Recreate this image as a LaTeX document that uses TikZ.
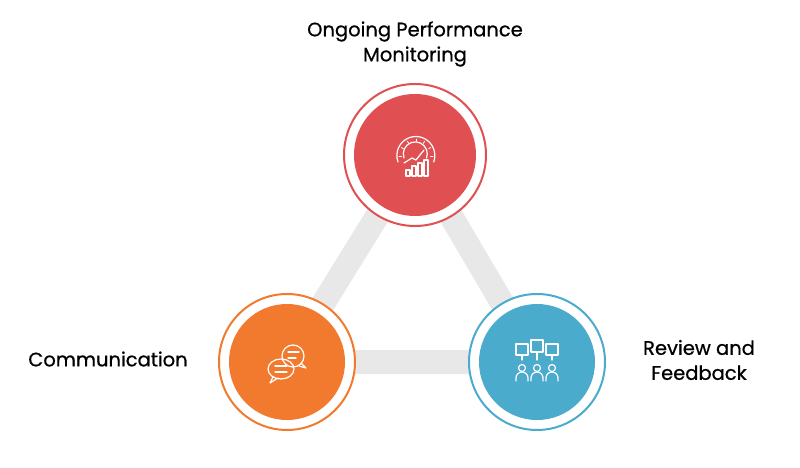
\documentclass[tikz,border=0pt]{standalone}
\usepackage{fontspec}
\usetikzlibrary{calc}
\setmainfont{Poppins}
\newfontfamily\lblf{Poppins}[UprightFeatures={FakeBold=0.7}]
\definecolor{cR}{RGB}{224,80,82}
\definecolor{cO}{RGB}{242,122,46}
\definecolor{cB}{RGB}{74,171,204}
\begin{document}
\begin{tikzpicture}[x=1pt,y=-1pt,
 lbl/.style={font=\lblf\fontsize{19.5}{25}\selectfont,align=center,text=black},
 ring/.style={draw=#1,line width=2pt,circle,inner sep=0pt,fill=white},
 disc/.style={fill=#1,circle,inner sep=0pt},
 ic/.style={draw=white,line width=1.2pt,line cap=round,line join=round}]
\useasboundingbox[fill=white] (0,0) rectangle (800,468);
\coordinate (T) at (415,155);
\coordinate (L) at (287,362);
\coordinate (R) at (537,362);
\draw[line width=24pt,draw=gray!18,line join=round] (T)--(L)--(R)--cycle;
\node[ring=cR,minimum size=142pt] (t) at (T) {};
\node[disc=cR,minimum size=122pt] (ti) at (T) {};
\node[ring=cO,minimum size=136pt] (l) at (L) {};
\node[disc=cO,minimum size=116pt] (li) at (L) {};
\node[ring=cB,minimum size=136pt] (r) at (R) {};
\node[disc=cB,minimum size=116pt] (ri) at (R) {};
\node[lbl] (tl) at (415,44) {Ongoing Performance\\Monitoring};
\node[lbl] (ll) at (108,359) {Communication};
\node[lbl] (rl) at (699,360) {Review and\\Feedback};
% gauge icon
\coordinate (gc) at (416,156);
\draw[ic] (398,162) arc[start angle=-200,end angle=20,radius=19];
\draw[ic] (404,158) arc[start angle=-200,end angle=20,radius=12];
\foreach \a in {-180,-150,-120,-90,-60,-30,0}{\draw[ic,line width=0.8pt] ($(gc)+(\a:14.5)$) -- ($(gc)+(\a:17)$);}
\draw[ic] (406,176) rectangle (410,170) (412,176) rectangle (416,166) (418,176) rectangle (422,163) (424,176) rectangle (428,160);
\draw[ic] (404,163)--(412,158)--(416,160)--(424,150);
% chat icon
\draw[ic] (281,369) ellipse (13 and 10);
\draw[ic] (273,377)--(270,383)--(278,378);
\draw[ic] (293,356) circle (11);
\draw[ic] (301,363)--(306,368)--(299,366);
\draw[ic] (275,366)--(287,366) (275,372)--(287,372) (288,352)--(299,352) (288,358)--(296,358);
% people icon
\foreach \x in {522,537,552}{
 \draw[ic] (\x,368) circle (3.5);
 \draw[ic] (\x-6,381) -- (\x-6,378) arc[start angle=180,end angle=360,radius=6] -- (\x+6,381);}
\draw[ic] (516,344) rectangle (528,355) (531,340) rectangle (543,352) (546,344) rectangle (558,355);
\draw[ic] (522,355)--(522,360) (537,352)--(537,360) (552,355)--(552,360);
\end{tikzpicture}
\end{document}
